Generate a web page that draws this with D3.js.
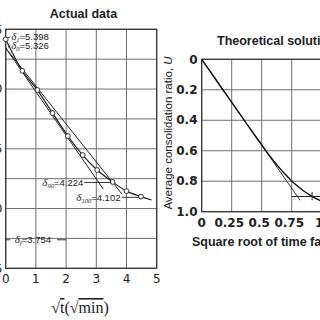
<!DOCTYPE html>
<html lang="en">
<head>
    <meta charset="UTF-8">
    <title>Actual data vs theoretical solution</title>
    <style>
        body {
            margin: 0;
            padding: 0;
            background: #ffffff;
        }
        svg {
            display: block;
            font-family: 'Liberation Sans', Arial, sans-serif;
        }
        .grid line {
            stroke: #6e6e6e;
            stroke-width: 1;
        }
        .frame {
            fill: none;
            stroke: #333;
            stroke-width: 1.2;
        }
        .tick-label {
            font-family: 'DejaVu Sans', sans-serif;
            font-size: 12px;
            fill: #222;
        }
        .title {
            font-size: 12.5px;
            font-weight: bold;
            fill: #222;
        }
        .note {
            font-size: 9.5px;
            fill: #222;
        }
        .delta {
            font-family: 'Liberation Serif', serif;
            font-style: italic;
        }
    </style>
</head>
<body>
    <script src="https://d3js.org/d3.v7.min.js"></script>
    <script>
        // ---- actual data (left panel) ----
        const sqrtT = [0, 0.55, 1.05, 1.55, 2.06, 2.55, 3.03, 3.54, 4.0, 4.48];
        const settle = [5.398, 5.140, 4.982, 4.793, 4.605, 4.449, 4.326, 4.228, 4.153, 4.108];
        const curveEndT = 4.83;
        const curveEndD = 4.080;
        const fitLineT = [0, 3.23];
        const fitLineD = [5.326, 4.17];
        const slopeLineT = [0, 3.85];
        const slopeLineD = [5.326, 4.128];
        const leftXTicks = [0, 1, 2, 3, 4, 5];
        const leftYDomain = [3.52, 5.48];
        const deltas = [
            { sub: "1", value: 5.398 },
            { sub: "0", value: 5.326 },
            { sub: "90", value: 4.224 },
            { sub: "100", value: 4.102 },
            { sub: "f", value: 3.754 }
        ];

        // ---- theoretical solution (right panel) ----
        const rootT = [0, 0.1, 0.2, 0.3, 0.4, 0.5, 0.55, 0.6, 0.65, 0.7, 0.75, 0.8, 0.85, 0.9, 0.95, 1.0];
        const ratioU = [0, 0.113, 0.226, 0.339, 0.451, 0.562, 0.616, 0.667, 0.714, 0.758, 0.798, 0.833, 0.864, 0.890, 0.913, 0.931];
        const tangentT = [0, 0.82];
        const tangentU = [0, 0.925];
        const u90 = 0.9;
        const u90LineT = [0.75, 1.0];
        const t90 = 0.92;
        const rightXTicks = [0, 0.25, 0.5, 0.75, 1];
        const rightXLabels = ["0", "0.25", "0.5", "0.75", "1"];
        const rightYTicks = [0, 0.2, 0.4, 0.6, 0.8, 1.0];
        const rightYLabels = ["0", "0.2", "0.4", "0.6", "0.8", "1.0"];

        const width = 320;
        const height = 320;

        const svg = d3.select("body")
            .append("svg")
            .attr("width", width)
            .attr("height", height);

        // ================= left panel =================
        const x1 = d3.scaleLinear().domain([0, 5]).range([5.7, 156.7]);
        const y1 = d3.scaleLinear().domain(leftYDomain).range([268.3, 29.3]);
        const yGrid = d3.range(9).map(i => leftYDomain[0] + i * (leftYDomain[1] - leftYDomain[0]) / 8);

        const left = svg.append("g");

        left.append("g").attr("class", "grid")
            .selectAll("line.v")
            .data(leftXTicks)
            .join("line")
            .attr("x1", d => x1(d)).attr("x2", d => x1(d))
            .attr("y1", y1.range()[0]).attr("y2", y1.range()[1]);

        left.append("g").attr("class", "grid")
            .selectAll("line.h")
            .data(yGrid)
            .join("line")
            .attr("x1", x1.range()[0]).attr("x2", x1.range()[1])
            .attr("y1", d => y1(d)).attr("y2", d => y1(d));

        left.append("rect").attr("class", "frame")
            .attr("x", x1(0)).attr("y", y1(leftYDomain[1]))
            .attr("width", x1(5) - x1(0))
            .attr("height", y1(leftYDomain[0]) - y1(leftYDomain[1]));

        // y tick labels, mostly outside the window (as in the cropped original)
        left.selectAll("text.ylab")
            .data(yGrid.filter((d, i) => i % 2 === 0))
            .join("text")
            .attr("class", "tick-label")
            .attr("x", 2.5)
            .attr("y", d => y1(d))
            .attr("dy", "0.35em")
            .attr("text-anchor", "end")
            .text(d => d3.format(".1f")(d));

        left.selectAll("text.xlab")
            .data(leftXTicks)
            .join("text")
            .attr("class", "tick-label")
            .attr("font-size", 12.5)
            .attr("x", d => x1(d))
            .attr("y", 283.3)
            .attr("text-anchor", "middle")
            .text(d => d);

        left.append("text").attr("class", "title")
            .attr("x", 83.5).attr("y", 18)
            .attr("text-anchor", "middle")
            .text("Actual data");

        // sqrt(t) axis label
        const xl = left.append("text")
            .attr("x", 80).attr("y", 313)
            .attr("text-anchor", "middle")
            .attr("font-family", "'Liberation Serif', serif")
            .attr("font-size", 16)
            .attr("fill", "#222");
        xl.append("tspan").text("√");
        xl.append("tspan").attr("text-decoration", "overline").text("t");
        xl.append("tspan").text("(√");
        xl.append("tspan").attr("text-decoration", "overline").text("min");
        xl.append("tspan").text(")");

        const line1 = d3.line().x(d => x1(d[0])).y(d => y1(d[1]));

        left.append("path")
            .attr("d", line1(d3.zip(fitLineT, fitLineD)))
            .attr("fill", "none").attr("stroke", "#222").attr("stroke-width", 1);

        left.append("path")
            .attr("d", line1(d3.zip(slopeLineT, slopeLineD)))
            .attr("fill", "none").attr("stroke", "#222").attr("stroke-width", 1);

        left.append("path")
            .attr("d", line1.curve(d3.curveCatmullRom)(d3.zip([...sqrtT, curveEndT], [...settle, curveEndD])))
            .attr("fill", "none").attr("stroke", "#222").attr("stroke-width", 1.2);

        left.selectAll("circle")
            .data(d3.zip(sqrtT, settle))
            .join("circle")
            .attr("cx", d => x1(d[0]))
            .attr("cy", d => y1(d[1]))
            .attr("r", 2.4)
            .attr("fill", "#fff")
            .attr("stroke", "#222")
            .attr("stroke-width", 0.9);

        // delta annotations
        function deltaLabel(d, x, y, anchor) {
            const t = left.append("text").attr("class", "note")
                .attr("x", x).attr("y", y)
                .attr("dy", "0.35em")
                .attr("text-anchor", anchor);
            t.append("tspan").attr("class", "delta").attr("font-size", 11).text("δ");
            t.append("tspan").attr("class", "delta").attr("font-size", 6.5).attr("dy", 2).text(d.sub);
            t.append("tspan").attr("dy", -2).text("=" + d.value.toFixed(3));
        }
        function seg(ta, tb, v1, v2) {
            left.append("line")
                .attr("x1", x1(ta)).attr("x2", x1(tb))
                .attr("y1", y1(v1)).attr("y2", y1(v2 === undefined ? v1 : v2))
                .attr("stroke", "#222").attr("stroke-width", 0.9);
        }

        deltaLabel(deltas[0], x1(0.18), y1(deltas[0].value) - 3, "start");
        seg(0.05, 0.15, deltas[0].value + 0.01, deltas[0].value + 0.02);
        deltaLabel(deltas[1], x1(0.18), y1(deltas[1].value) - 2.5, "start");
        seg(0.07, 0.15, deltas[1].value + 0.005, deltas[1].value + 0.022);

        deltaLabel(deltas[2], x1(2.57), y1(deltas[2].value), "end");
        seg(2.6, 3.5, deltas[2].value);

        deltaLabel(deltas[3], x1(3.8), y1(deltas[3].value), "end");
        seg(3.84, 4.42, deltas[3].value);

        seg(0, 0.15, deltas[4].value);
        deltaLabel(deltas[4], x1(0.3), y1(deltas[4].value), "start");
        seg(1.7, 2.0, deltas[4].value);

        // ================= right panel =================
        const x2 = d3.scaleLinear().domain([0, 1]).range([201.7, 321.7]);
        const y2 = d3.scaleLinear().domain([0, 1]).range([59.3, 211.7]);

        const right = svg.append("g");

        right.append("g").attr("class", "grid")
            .selectAll("line")
            .data(rightXTicks)
            .join("line")
            .attr("x1", d => x2(d)).attr("x2", d => x2(d))
            .attr("y1", y2(0)).attr("y2", y2(1));

        right.append("g").attr("class", "grid")
            .selectAll("line")
            .data(rightYTicks)
            .join("line")
            .attr("x1", x2(0)).attr("x2", x2(1))
            .attr("y1", d => y2(d)).attr("y2", d => y2(d));

        right.append("rect").attr("class", "frame")
            .attr("x", x2(0)).attr("y", y2(0))
            .attr("width", x2(1) - x2(0))
            .attr("height", y2(1) - y2(0));

        right.selectAll("text.ylab")
            .data(rightYTicks)
            .join("text")
            .attr("class", "tick-label")
            .attr("font-weight", "bold")
            .attr("x", 197.5)
            .attr("y", d => y2(d))
            .attr("dy", "0.35em")
            .attr("text-anchor", "end")
            .text((d, i) => rightYLabels[i]);

        right.selectAll("text.xlab")
            .data(rightXTicks)
            .join("text")
            .attr("class", "tick-label")
            .attr("font-weight", "bold")
            .attr("x", d => x2(d))
            .attr("dx", (d, i) => i === 0 ? 0 : -2.5)
            .attr("y", 227)
            .attr("text-anchor", "middle")
            .text((d, i) => rightXLabels[i]);

        right.append("text").attr("class", "title")
            .attr("x", 217).attr("y", 44.5)
            .text("Theoretical solution");

        right.append("text").attr("class", "title")
            .attr("x", 192).attr("y", 245.5)
            .text("Square root of time factor");

        const yt = right.append("text")
            .attr("transform", "translate(171.5,133) rotate(-90)")
            .attr("text-anchor", "middle")
            .attr("font-size", 11.5)
            .attr("fill", "#222");
        yt.append("tspan").text("Average consolidation ratio, ");
        yt.append("tspan").attr("font-style", "italic").text("U");

        const line2 = d3.line().x(d => x2(d[0])).y(d => y2(d[1]));

        right.append("path")
            .attr("d", line2(d3.zip(tangentT, tangentU)))
            .attr("fill", "none").attr("stroke", "#222").attr("stroke-width", 0.9);

        right.append("path")
            .attr("d", line2.curve(d3.curveMonotoneX)(d3.zip(rootT, ratioU)))
            .attr("fill", "none").attr("stroke", "#111").attr("stroke-width", 1.4);

        right.append("line")
            .attr("x1", x2(u90LineT[0])).attr("x2", x2(u90LineT[1]))
            .attr("y1", y2(u90)).attr("y2", y2(u90))
            .attr("stroke", "#222").attr("stroke-width", 1);

        right.append("line")
            .attr("x1", x2(t90)).attr("x2", x2(t90))
            .attr("y1", y2(u90 - 0.03)).attr("y2", y2(u90 + 0.025))
            .attr("stroke", "#222").attr("stroke-width", 1);
    </script>
</body>
</html>
